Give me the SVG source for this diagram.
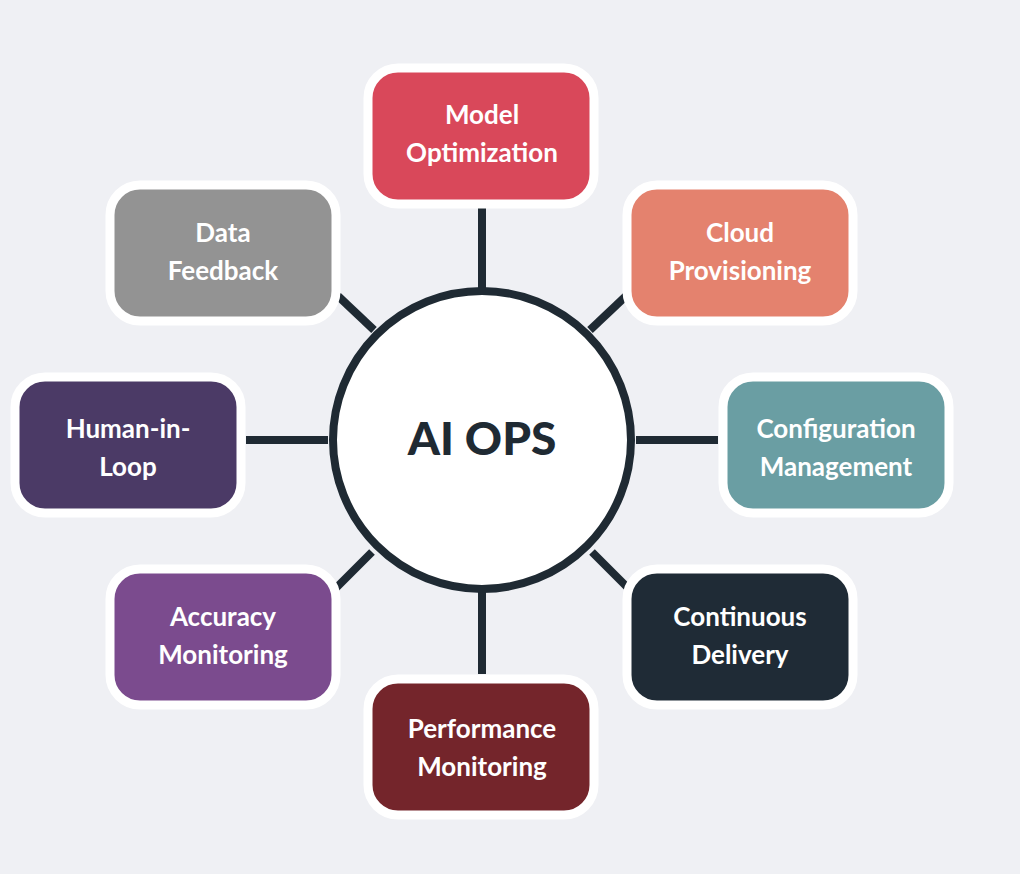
<svg xmlns="http://www.w3.org/2000/svg" width="1020" height="874" viewBox="0 0 1020 874">
<style>
.n{stroke:#fff;stroke-width:9}
.t{font-family:Lato,"Open Sans",sans-serif;font-weight:700;font-size:26px;fill:#fff;text-anchor:middle}
.c{stroke:#1f2a33;stroke-width:8;fill:none}
</style>
<rect width="1020" height="874" fill="#eff0f4"/>
<g id="connectors" class="c">
<line x1="482" y1="208" x2="482" y2="290"/>
<line x1="482" y1="592" x2="482" y2="674"/>
<line x1="246" y1="440" x2="328" y2="440"/>
<line x1="636" y1="440" x2="718" y2="440"/>
<line x1="338" y1="296" x2="374" y2="330"/>
<line x1="626" y1="296" x2="590" y2="330"/>
<line x1="336" y1="588" x2="372" y2="552"/>
<line x1="628" y1="588" x2="592" y2="552"/>
</g>
<g id="center"><circle cx="482" cy="440" r="149" fill="#fff" stroke="#1f2a33" stroke-width="8"/>
<text x="482" y="455" font-family="Lato,sans-serif" font-weight="900" font-size="46" fill="#1f2a33" text-anchor="middle">AI OPS</text></g>
<g id="model"><rect class="n" x="368" y="68" width="226" height="136" rx="30" fill="#d9485a"/><text class="t" x="482" y="124">Model</text><text class="t" x="482" y="162">Optimization</text></g>
<g id="data"><rect class="n" x="110" y="185" width="226" height="136" rx="30" fill="#939393"/><text class="t" x="223" y="242">Data</text><text class="t" x="223" y="280">Feedback</text></g>
<g id="cloud"><rect class="n" x="627" y="185" width="226" height="136" rx="30" fill="#e4826e"/><text class="t" x="740" y="242">Cloud</text><text class="t" x="740" y="280">Provisioning</text></g>
<g id="human"><rect class="n" x="15" y="377" width="226" height="136" rx="30" fill="#4b3a66"/><text class="t" x="128" y="438">Human-in-</text><text class="t" x="128" y="476">Loop</text></g>
<g id="config"><rect class="n" x="723" y="377" width="226" height="136" rx="30" fill="#6a9ea3"/><text class="t" x="836" y="438">Configuration</text><text class="t" x="836" y="476">Management</text></g>
<g id="accuracy"><rect class="n" x="110" y="569" width="226" height="136" rx="30" fill="#7b4b8e"/><text class="t" x="223" y="626">Accuracy</text><text class="t" x="223" y="664">Monitoring</text></g>
<g id="delivery"><rect class="n" x="627" y="569" width="226" height="136" rx="30" fill="#1f2b36"/><text class="t" x="740" y="626">Continuous</text><text class="t" x="740" y="664">Delivery</text></g>
<g id="performance"><rect class="n" x="368" y="679" width="226" height="136" rx="30" fill="#74252b"/><text class="t" x="482" y="738">Performance</text><text class="t" x="482" y="776">Monitoring</text></g>
</svg>
